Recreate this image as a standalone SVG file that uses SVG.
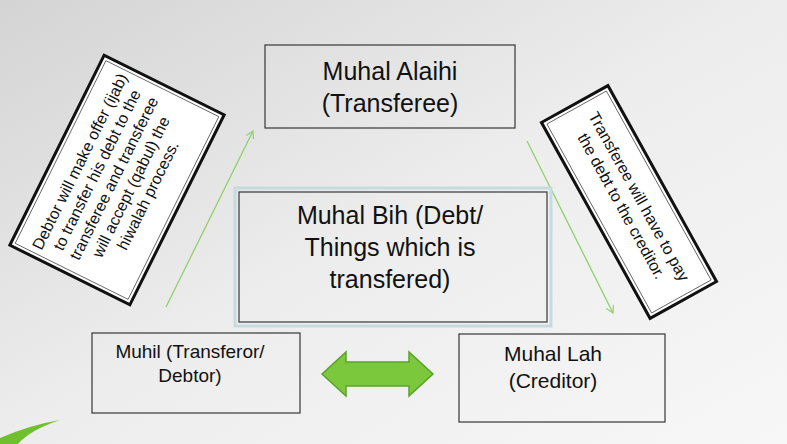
<svg xmlns="http://www.w3.org/2000/svg" width="787" height="444" viewBox="0 0 787 444">
<defs>
<linearGradient id="bg" x1="0" y1="0" x2="1" y2="1"><stop offset="0" stop-color="#d4d4d4"/><stop offset="0.5" stop-color="#ededed"/><stop offset="1" stop-color="#f7f7f7"/></linearGradient>
<marker id="ah" markerWidth="10" markerHeight="10" refX="8" refY="5" orient="auto" markerUnits="userSpaceOnUse"><path d="M1,1 L8,5 L1,9" fill="none" stroke="#8fd16a" stroke-width="1.2"/></marker>
</defs>
<style>
.box{fill:none;stroke:#444;stroke-width:1.3}
.t{font-family:"Liberation Sans",Arial,sans-serif;fill:#111;text-anchor:middle}
.note{fill:#fff;stroke:#111;stroke-width:3}
.link{stroke:#8fd16a;stroke-width:1.3;fill:none}
</style>
<rect width="787" height="444" fill="url(#bg)"/>
<path d="M0,444 L0,438 Q30,425 60,420 Q30,430 18,444 Z" fill="#6fbf2e"/>
<g id="connectors">
<line class="link" x1="166" y1="307" x2="253" y2="131" marker-end="url(#ah)"/>
<line class="link" x1="527" y1="141" x2="613" y2="313" marker-end="url(#ah)"/>
<path d="M322,374 L346,352 L346,362 L409,362 L409,352 L433,374 L409,396 L409,386 L346,386 L346,396 Z" fill="#7cc83c" stroke="#5aa22a" stroke-width="1.5"/>
</g>
<g id="muhal-alaihi">
<rect class="box" x="265" y="45" width="250" height="83"/>
<text class="t" x="390" y="80" font-size="25">Muhal Alaihi</text>
<text class="t" x="390" y="112" font-size="25">(Transferee)</text>
</g>
<g id="muhal-bih">
<rect x="235" y="188" width="316" height="138" fill="none" stroke="#c4dbe0" stroke-width="3"/>
<rect class="box" x="239" y="192" width="308" height="130" stroke="#555" stroke-width="1"/>
<text class="t" x="390" y="224" font-size="25">Muhal Bih (Debt/</text>
<text class="t" x="390" y="256" font-size="25">Things which is</text>
<text class="t" x="390" y="288" font-size="25">transfered)</text>
</g>
<g id="muhil">
<rect class="box" x="92" y="333" width="208" height="80"/>
<text class="t" x="190" y="358" font-size="19">Muhil (Transferor/</text>
<text class="t" x="190" y="382" font-size="19">Debtor)</text>
</g>
<g id="muhal-lah">
<rect class="box" x="459" y="334" width="206" height="88"/>
<text class="t" x="553" y="361" font-size="21">Muhal Lah</text>
<text class="t" x="553" y="388" font-size="21">(Creditor)</text>
</g>
<g id="note-left" transform="translate(117,180) rotate(-63.6)">
<rect class="note" x="-106" y="-67" width="212" height="134"/>
<rect x="-102" y="-63" width="204" height="126" fill="none" stroke="#555" stroke-width="0.8"/>
<text class="t" font-size="16"><tspan x="0" y="-36">Debtor will make offer (ijab)</tspan><tspan x="0" y="-17">to transfer his debt to the</tspan><tspan x="0" y="2">transferee and transferee</tspan><tspan x="0" y="21">will accept (qabul) the</tspan><tspan x="0" y="40">hiwalah process.</tspan></text>
</g>
<g id="note-right" transform="translate(629,202) rotate(61)">
<rect class="note" x="-112" y="-38" width="224" height="76"/>
<rect x="-108" y="-34" width="216" height="68" fill="none" stroke="#555" stroke-width="0.8"/>
<text class="t" font-size="16"><tspan x="0" y="-6">Transferee will have to pay</tspan><tspan x="0" y="14">the debt to the creditor.</tspan></text>
</g>
</svg>
